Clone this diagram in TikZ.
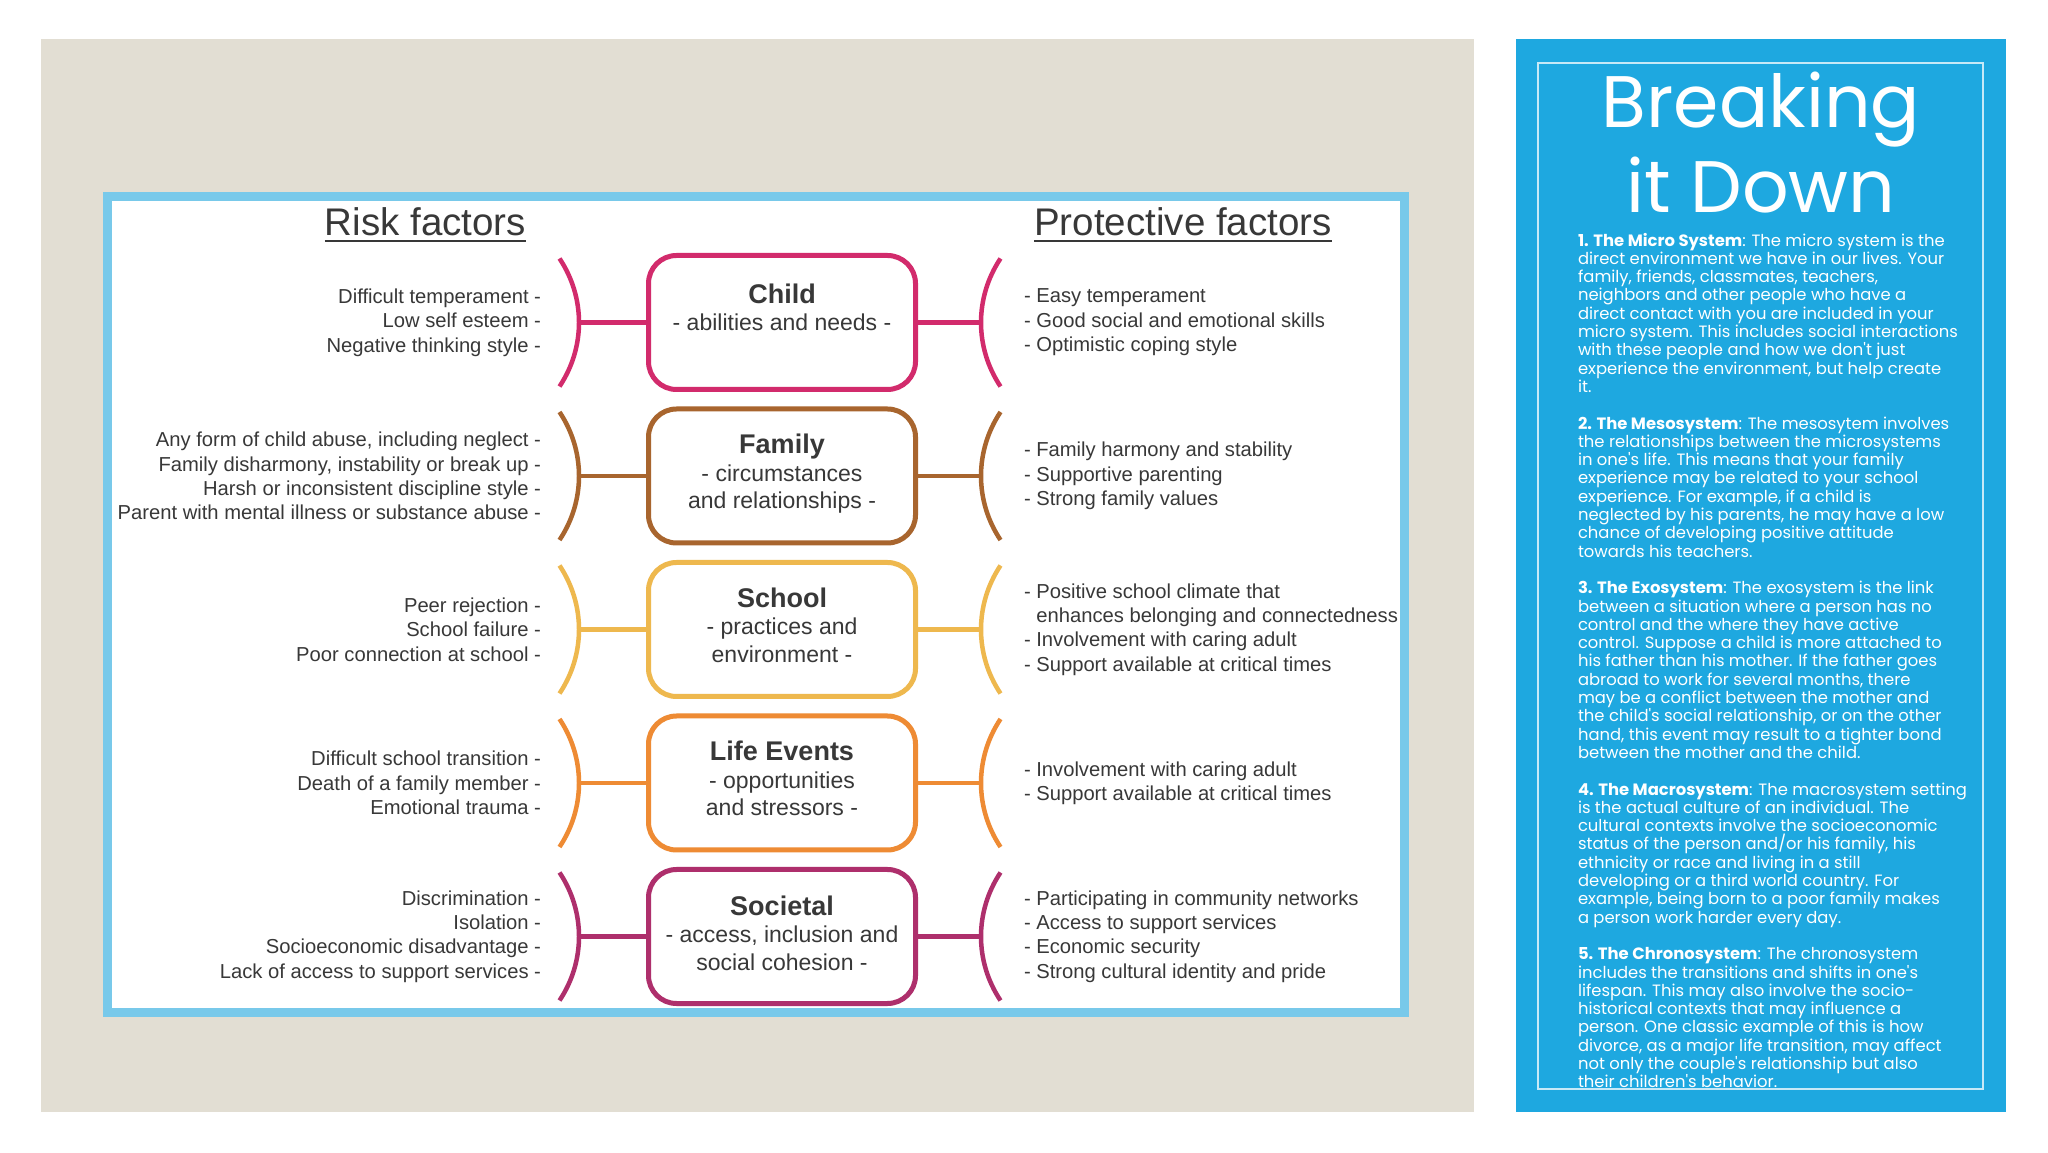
\documentclass[tikz,border=0pt]{standalone}
\usepackage{fontspec}
\setmainfont{Liberation Sans}
\newfontfamily\gothic{Poppins}
\usetikzlibrary{calc,positioning}

\definecolor{slidebg}{HTML}{E2DED3}
\definecolor{panelblue}{HTML}{1EA8E0}
\definecolor{frameblue}{HTML}{78C9EA}
\definecolor{childc}{HTML}{D22B6C}
\definecolor{familyc}{HTML}{A8652E}
\definecolor{schoolc}{HTML}{EEB84E}
\definecolor{lifec}{HTML}{EE8B34}
\definecolor{societalc}{HTML}{AE2F6C}
\definecolor{itemgrey}{HTML}{383838}

\begin{document}
\begin{tikzpicture}[x=1pt, y=1pt,
  every node/.style={inner sep=0pt, outer sep=0pt, text=itemgrey},
  factorbox/.style={draw=#1, line width=5pt, rounded corners=28pt, minimum width=267pt, minimum height=134pt, fill=white},
  boxtext/.style={align=center, font=\fontsize{23}{27.5}\selectfont},
  riskitem/.style={align=right, font=\fontsize{20.2}{24.4}\selectfont},
  protitem/.style={align=left, font=\fontsize{20.2}{24.4}\selectfont},
  heading/.style={anchor=base, font=\fontsize{38.5}{40}\selectfont},
  bracket/.style={draw=#1, line width=4.5pt},
  bigtitle/.style={anchor=base, align=center, text=white, font=\gothic\fontsize{73}{85}\selectfont},
  bodytext/.style={anchor=base west, align=left, text=white, font=\gothic\fontsize{16.4}{18.3}\selectfont}
]
\useasboundingbox (0,0) rectangle (2048,1152);
\fill[white] (0,0) rectangle (2048,1152);
\fill[slidebg] (41,40) rectangle (1474,1113);
\draw[frameblue, line width=9pt, fill=white] (107.5,139.5) rectangle (1404.5,955.5);

% column headings
\node[heading] (risk) at (425.5,916) {Risk factors};
\node[heading] (protective) at (1183,916) {Protective factors};
\draw[itemgrey, line width=2.5pt] ([yshift=-5pt]risk.base west) -- ([yshift=-5pt]risk.base east);
\draw[itemgrey, line width=2.5pt] ([yshift=-5pt]protective.base west) -- ([yshift=-5pt]protective.base east);

% the five levels
\node[factorbox=childc] (child) at (782,829.5) {};
\node[factorbox=familyc, below=19.5pt of child] (family) {};
\node[factorbox=schoolc, below=19.5pt of family] (school) {};
\node[factorbox=lifec, below=19.5pt of school] (life) {};
\node[factorbox=societalc, below=19.5pt of life] (societal) {};

\node[boxtext, below=28pt of child.north] (childtxt) {{\bfseries\fontsize{27}{27.5}\selectfont Child}\\- abilities and needs -};
\node[boxtext, below=25pt of family.north] (familytxt) {{\bfseries\fontsize{27}{27.5}\selectfont Family}\\- circumstances\\and relationships -};
\node[boxtext, below=25pt of school.north] (schooltxt) {{\bfseries\fontsize{27}{27.5}\selectfont School}\\- practices and\\environment -};
\node[boxtext, below=25pt of life.north] (lifetxt) {{\bfseries\fontsize{27}{27.5}\selectfont Life Events}\\- opportunities\\and stressors -};
\node[boxtext, below=26pt of societal.north] (societaltxt) {{\bfseries\fontsize{27}{27.5}\selectfont Societal}\\- access, inclusion and\\social cohesion -};

% risk factors
\node[riskitem, left=107.5pt of child] (childrisk) {Difficult temperament -\\Low self esteem -\\Negative thinking style -};
\node[riskitem, left=107.5pt of family] (familyrisk) {Any form of child abuse, including neglect -\\Family disharmony, instability or break up -\\Harsh or inconsistent discipline style -\\Parent with mental illness or substance abuse -};
\node[riskitem, left=107.5pt of school] (schoolrisk) {Peer rejection -\\School failure -\\Poor connection at school -};
\node[riskitem, left=107.5pt of life] (liferisk) {Difficult school transition -\\Death of a family member -\\Emotional trauma -};
\node[riskitem, left=107.5pt of societal] (societalrisk) {Discrimination -\\Isolation -\\Socioeconomic disadvantage -\\Lack of access to support services -};

% protective factors
\node[protitem, right=108.5pt of child] (childprot) {- Easy temperament\\- Good social and emotional skills\\- Optimistic coping style};
\node[protitem, right=108.5pt of family] (familyprot) {- Family harmony and stability\\- Supportive parenting\\- Strong family values};
\node[protitem, right=108.5pt of school] (schoolprot) {- Positive school climate that\\\phantom{- }enhances belonging and connectedness\\- Involvement with caring adult\\- Support available at critical times};
\node[protitem, right=108.5pt of life] (lifeprot) {- Involvement with caring adult\\- Support available at critical times};
\node[protitem, right=108.5pt of societal] (societalprot) {- Participating in community networks\\- Access to support services\\- Economic security\\- Strong cultural identity and pride};

% brackets and links
\coordinate (childL) at ($(child.west)+(-69.5,0)$);
\coordinate (childR) at ($(child.east)+(65.5,0)$);
\coordinate (familyL) at ($(family.west)+(-69.5,0)$);
\coordinate (familyR) at ($(family.east)+(65.5,0)$);
\coordinate (schoolL) at ($(school.west)+(-69.5,0)$);
\coordinate (schoolR) at ($(school.east)+(65.5,0)$);
\coordinate (lifeL) at ($(life.west)+(-69.5,0)$);
\coordinate (lifeR) at ($(life.east)+(65.5,0)$);
\coordinate (societalL) at ($(societal.west)+(-69.5,0)$);
\coordinate (societalR) at ($(societal.east)+(65.5,0)$);

\draw[bracket=childc] ($(childL)+(-19.5,64)$) .. controls ($(childL)+(6.5,25)$) and ($(childL)+(6.5,-25)$) .. ($(childL)+(-19.5,-64)$);
\draw[bracket=childc] ($(childR)+(19.5,64)$) .. controls ($(childR)+(-6.5,25)$) and ($(childR)+(-6.5,-25)$) .. ($(childR)+(19.5,-64)$);
\draw[bracket=childc] (childL) -- (child.west);
\draw[bracket=childc] (child.east) -- (childR);

\draw[bracket=familyc] ($(familyL)+(-19.5,64)$) .. controls ($(familyL)+(6.5,25)$) and ($(familyL)+(6.5,-25)$) .. ($(familyL)+(-19.5,-64)$);
\draw[bracket=familyc] ($(familyR)+(19.5,64)$) .. controls ($(familyR)+(-6.5,25)$) and ($(familyR)+(-6.5,-25)$) .. ($(familyR)+(19.5,-64)$);
\draw[bracket=familyc] (familyL) -- (family.west);
\draw[bracket=familyc] (family.east) -- (familyR);

\draw[bracket=schoolc] ($(schoolL)+(-19.5,64)$) .. controls ($(schoolL)+(6.5,25)$) and ($(schoolL)+(6.5,-25)$) .. ($(schoolL)+(-19.5,-64)$);
\draw[bracket=schoolc] ($(schoolR)+(19.5,64)$) .. controls ($(schoolR)+(-6.5,25)$) and ($(schoolR)+(-6.5,-25)$) .. ($(schoolR)+(19.5,-64)$);
\draw[bracket=schoolc] (schoolL) -- (school.west);
\draw[bracket=schoolc] (school.east) -- (schoolR);

\draw[bracket=lifec] ($(lifeL)+(-19.5,64)$) .. controls ($(lifeL)+(6.5,25)$) and ($(lifeL)+(6.5,-25)$) .. ($(lifeL)+(-19.5,-64)$);
\draw[bracket=lifec] ($(lifeR)+(19.5,64)$) .. controls ($(lifeR)+(-6.5,25)$) and ($(lifeR)+(-6.5,-25)$) .. ($(lifeR)+(19.5,-64)$);
\draw[bracket=lifec] (lifeL) -- (life.west);
\draw[bracket=lifec] (life.east) -- (lifeR);

\draw[bracket=societalc] ($(societalL)+(-19.5,64)$) .. controls ($(societalL)+(6.5,25)$) and ($(societalL)+(6.5,-25)$) .. ($(societalL)+(-19.5,-64)$);
\draw[bracket=societalc] ($(societalR)+(19.5,64)$) .. controls ($(societalR)+(-6.5,25)$) and ($(societalR)+(-6.5,-25)$) .. ($(societalR)+(19.5,-64)$);
\draw[bracket=societalc] (societalL) -- (societal.west);
\draw[bracket=societalc] (societal.east) -- (societalR);

% side panel
\fill[panelblue] (1516,40) rectangle (2006,1113);
\draw[white!75!panelblue, line width=1.5pt] (1538,63) rectangle (1983,1089);
\node[bigtitle] (breaking) at (1761,939) {Breaking\\it Down};
\node[bodytext] (systems) at (1578,64.2) {%
\textbf{1. The Micro System}: The micro system is the\\
direct environment we have in our lives. Your\\
family, friends, classmates, teachers,\\
neighbors and other people who have a\\
direct contact with you are included in your\\
micro system. This includes social interactions\\
with these people and how we don't just\\
experience the environment, but help create\\
it.\\[18.3pt]
\textbf{2. The Mesosystem}: The mesosytem involves\\
the relationships between the microsystems\\
in one's life. This means that your family\\
experience may be related to your school\\
experience. For example, if a child is\\
neglected by his parents, he may have a low\\
chance of developing positive attitude\\
towards his teachers.\\[18.3pt]
\textbf{3. The Exosystem}: The exosystem is the link\\
between a situation where a person has no\\
control and the where they have active\\
control. Suppose a child is more attached to\\
his father than his mother. If the father goes\\
abroad to work for several months, there\\
may be a conflict between the mother and\\
the child's social relationship, or on the other\\
hand, this event may result to a tighter bond\\
between the mother and the child.\\[18.3pt]
\textbf{4. The Macrosystem}: The macrosystem setting\\
is the actual culture of an individual. The\\
cultural contexts involve the socioeconomic\\
status of the person and/or his family, his\\
ethnicity or race and living in a still\\
developing or a third world country. For\\
example, being born to a poor family makes\\
a person work harder every day.\\[18.3pt]
\textbf{5. The Chronosystem}: The chronosystem\\
includes the transitions and shifts in one's\\
lifespan. This may also involve the socio-\\
historical contexts that may influence a\\
person. One classic example of this is how\\
divorce, as a major life transition, may affect\\
not only the couple's relationship but also\\
their children's behavior.};
\end{tikzpicture}
\end{document}
